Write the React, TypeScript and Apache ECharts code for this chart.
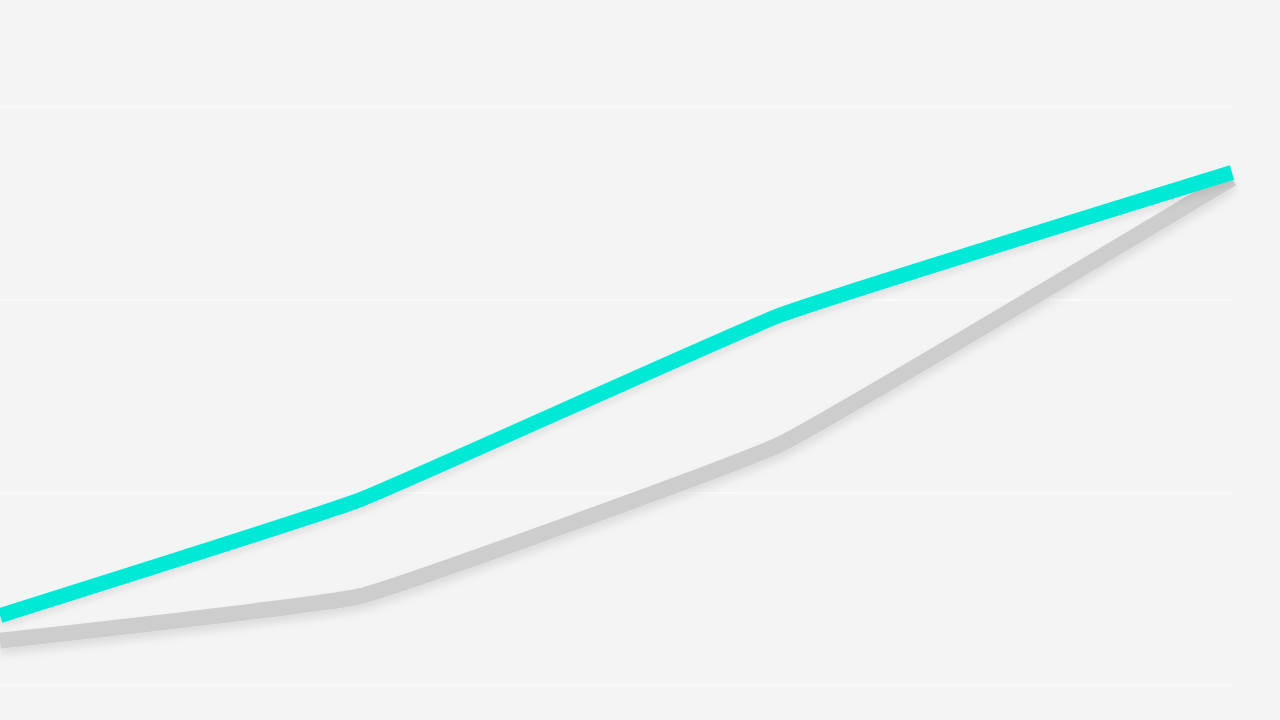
import { useEffect, useRef } from "react";
import * as echarts from "echarts";

// months along the x axis, values on a 0–30 scale
const periods = [0, 3.5, 7.6, 12];
const tealValues = [3.6, 9.6, 19.2, 26.6];
const grayValues = [2.3, 4.6, 12.5, 26.3];
const yTicks = [0, 10, 20, 30];

export default function App() {
  const chartRef = useRef<HTMLDivElement>(null);

  useEffect(() => {
    document.body.style.margin = "0";
    if (!chartRef.current) return;
    const chart = echarts.init(chartRef.current, null, { renderer: "svg" });

    chart.setOption({
      animation: false,
      backgroundColor: "#f4f4f4",
      grid: { left: 0, right: 48, top: 107, bottom: 35 },
      xAxis: {
        type: "value",
        min: periods[0],
        max: periods[periods.length - 1],
        axisLine: { show: false },
        axisTick: { show: false },
        axisLabel: { show: false },
        splitLine: { show: false },
      },
      yAxis: {
        type: "value",
        min: yTicks[0],
        max: yTicks[yTicks.length - 1],
        interval: 10,
        axisLine: { show: false },
        axisTick: { show: false },
        axisLabel: { show: false },
        splitLine: { lineStyle: { color: "#f9f9f9", width: 2 } },
      },
      series: [
        {
          name: "gray",
          type: "line",
          data: periods.map((p, i) => [p, grayValues[i]]),
          showSymbol: false,
          smooth: 0.1,
          lineStyle: {
            color: "#cdcdcd",
            width: 16,
            cap: "butt",
            join: "round",
            shadowColor: "rgba(0,0,0,0.10)",
            shadowBlur: 8,
            shadowOffsetY: 6,
          },
          z: 2,
        },
        {
          name: "teal",
          type: "line",
          data: periods.map((p, i) => [p, tealValues[i]]),
          showSymbol: false,
          smooth: 0.1,
          lineStyle: {
            color: "#00e9d7",
            width: 15,
            cap: "butt",
            join: "round",
            shadowColor: "rgba(0,0,0,0.08)",
            shadowBlur: 6,
            shadowOffsetY: 5,
          },
          z: 3,
        },
      ],
    });

    return () => {
      chart.dispose();
    };
  }, []);

  return (
    <div
      ref={chartRef}
      style={{ position: "fixed", left: 0, top: 0, width: 1280, height: 720 }}
    />
  );
}
